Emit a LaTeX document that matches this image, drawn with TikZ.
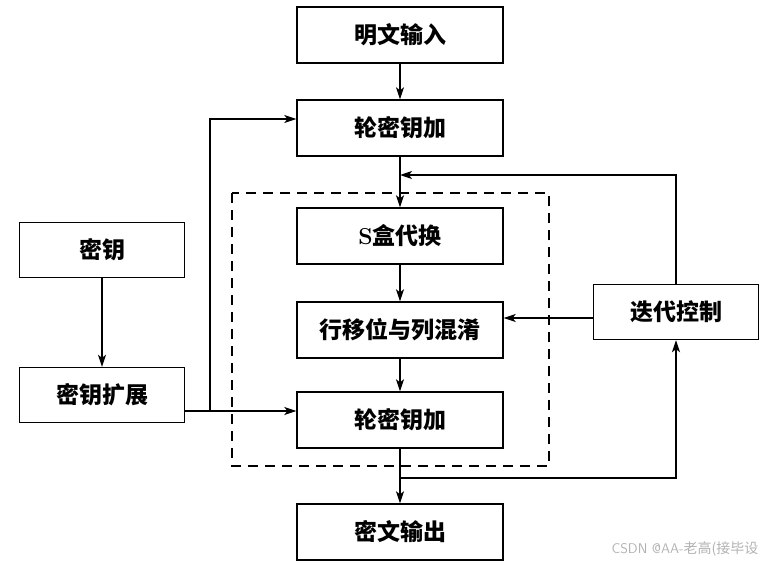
\documentclass[tikz,border=0pt]{standalone}
\usepackage{fontspec}
\usepackage{tikz}
\usetikzlibrary{calc,arrows.meta}
\newfontfamily\cjk{Noto Sans CJK SC}
\tikzstyle{stepbox}=[rectangle,draw=black,fill=white,line width=1.4pt,
                     font=\cjk\bfseries\fontsize{23}{26}\selectfont,inner sep=0pt,
                     minimum width=206pt,minimum height=56pt]
\tikzstyle{sidebox}=[stepbox,minimum width=165pt,minimum height=55pt]
\tikzstyle{flow}=[line width=1.4pt,-{Stealth[length=12pt,width=8pt,inset=3pt]}]
\newcommand\maincol{400}
\newcommand\keycol{102}
\newcommand\itercol{676}

\begin{document}
\begin{tikzpicture}[x=1pt,y=-1pt]
    \useasboundingbox (0,0) rectangle (767,564);
    % dashed round
    \draw [line width=1.4pt,dash pattern=on 10pt off 7pt] (232,193) rectangle (549,466);

    \node [stepbox] (Plain)   at ($(\maincol,35)$)  {明文输入};
    \node [stepbox] (AddKeyA) at ($(\maincol,128)$) {轮密钥加};
    \node [stepbox] (SBox)    at ($(\maincol,236)$) {\textrm{S}盒代换};
    \node [stepbox] (ShiftMix) at ($(\maincol,330)$) {行移位与列混淆};
    \node [stepbox] (AddKeyB) at ($(\maincol,420)$) {轮密钥加};
    \node [stepbox] (Cipher)  at ($(\maincol,532)$) {密文输出};
    \node [sidebox] (Key)     at ($(\keycol,250)$)  {密钥};
    \node [sidebox] (KeyExp)  at ($(\keycol,395)$)  {密钥扩展};
    \node [sidebox] (Iter)    at ($(\itercol,312)$) {迭代控制};

    \coordinate (KeyTop) at (210,119);
    \coordinate (KeyLow) at (210,411);
    \coordinate (LoopTop) at (\maincol,175);
    \coordinate (LoopLow) at (\maincol,478);
    \coordinate (IterIn) at (\itercol,318);

    \draw [flow] (Plain) -- (AddKeyA);
    \draw [flow] (AddKeyA) -- (SBox);
    \draw [flow] (SBox) -- (ShiftMix);
    \draw [flow] (ShiftMix) -- (AddKeyB);
    \draw [flow] (AddKeyB) -- (Cipher);
    \draw [flow] (Key) -- (KeyExp);
    \draw [flow] (KeyExp.east |- KeyLow) -- (AddKeyB.west |- KeyLow);
    \draw [flow] (KeyLow) -- (KeyTop) -- (AddKeyA.west |- KeyTop);
    \draw [flow] (Iter.north) |- (LoopTop);
    \draw [flow] (Iter.west |- IterIn) -- (ShiftMix.east |- IterIn);
    \draw [flow] (LoopLow) -| (Iter.south);

    \node [text=black!30,font=\sffamily\fontsize{14}{16}\selectfont,anchor=east] (Mark) at (762,549) {CSDN @AA-{\cjk 老高(接毕设}};
\end{tikzpicture}
\end{document}
